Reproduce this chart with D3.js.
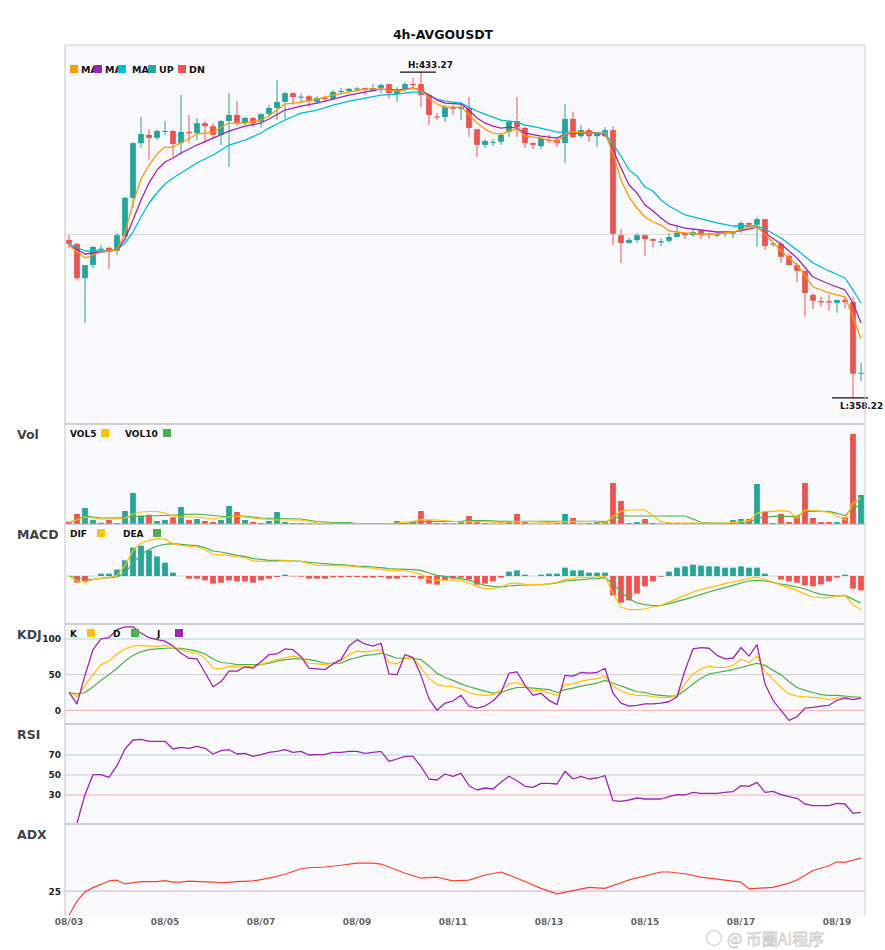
<!DOCTYPE html>
<html>
<head>
<meta charset="utf-8">
<script src="https://d3js.org/d3.v7.min.js"></script>
<style>
  body { margin: 0; background: #fff; }
  svg { font-family: "DejaVu Sans", sans-serif; }
</style>
</head>
<body>
<svg id="chart"></svg>
<script>
/*------------------------------------------------------------
----- DATA
------------------------------------------------------------*/

// Candles, one every 4 hours, starting 08/03 00:00
const open = [394.6, 393.7, 385.8, 388.8, 392.3, 392.8, 392.1, 395.5, 404.3, 416.9,
  418.8, 418.1, 419.5, 419.7, 416.9, 419.5, 419.2, 421.5, 420.8, 418.8,
  422.0, 423.4, 421.5, 422.7, 421.8, 423.6, 425.0, 426.4, 428.4, 427.4,
  427.7, 426.4, 427.3, 427.1, 428.8, 428.9, 429.2, 429.6, 428.9, 429.6,
  430.5, 428.2, 429.4, 430.5, 430.5, 428.0, 423.0, 422.9, 425.2, 424.8,
  425.0, 420.1, 416.5, 417.0, 417.2, 419.5, 422.0, 420.4, 416.9, 416.2,
  417.7, 417.6, 416.9, 422.5, 418.5, 419.9, 418.5, 418.5, 419.9, 395.7,
  393.9, 394.6, 395.7, 394.8, 394.0, 394.4, 395.3, 396.2, 395.7, 396.7,
  396.1, 395.6, 396.1, 396.1, 396.9, 398.5, 398.1, 399.4, 393.6, 393.7,
  390.9, 388.8, 387.5, 381.9, 380.5, 380.5, 380.1, 380.8, 380.3, 363.8];
const high = [395.7, 393.9, 388.8, 393.2, 393.4, 393.0, 396.2, 404.5, 417.2, 422.9,
  420.1, 420.1, 422.0, 419.9, 428.0, 423.4, 422.7, 422.0, 421.5, 422.2,
  428.4, 426.6, 422.9, 422.9, 423.8, 425.7, 431.4, 428.7, 428.6, 428.4,
  428.0, 427.7, 427.7, 429.1, 429.6, 429.6, 429.8, 429.7, 430.5, 430.7,
  430.6, 429.8, 431.0, 431.9, 433.27, 428.0, 423.8, 425.7, 425.7, 426.4,
  427.5, 420.2, 417.8, 417.8, 419.2, 422.2, 427.5, 420.6, 417.2, 418.3,
  418.8, 418.3, 425.9, 424.1, 421.1, 420.4, 419.5, 420.6, 420.8, 397.1,
  395.1, 396.2, 395.9, 395.0, 395.0, 396.2, 397.8, 396.4, 396.9, 396.8,
  396.2, 396.4, 396.4, 396.7, 399.0, 398.7, 399.9, 399.5, 393.9, 394.1,
  391.4, 389.3, 387.5, 382.4, 381.5, 381.9, 380.8, 381.5, 381.5, 366.3];
const low = [392.8, 385.2, 375.5, 388.2, 391.8, 387.9, 391.1, 395.3, 402.0, 415.8,
  413.2, 417.6, 418.8, 413.7, 414.2, 416.9, 417.6, 416.9, 418.1, 416.5,
  411.4, 420.8, 421.1, 420.6, 420.4, 423.1, 422.2, 422.2, 425.7, 426.1,
  425.2, 425.9, 426.4, 427.0, 428.0, 428.4, 428.7, 428.0, 428.7, 428.4,
  427.1, 426.4, 428.7, 429.6, 425.2, 421.1, 422.2, 421.8, 423.4, 422.2,
  418.3, 413.7, 415.8, 416.2, 416.5, 418.3, 418.3, 415.8, 415.5, 415.5,
  416.9, 416.0, 412.3, 418.1, 418.1, 417.2, 416.0, 418.3, 393.4, 389.3,
  393.7, 393.9, 390.9, 392.8, 393.2, 393.9, 395.2, 394.8, 395.3, 394.8,
  394.8, 395.2, 395.3, 395.0, 396.2, 397.6, 393.0, 392.3, 393.0, 389.3,
  388.8, 384.9, 376.9, 378.7, 379.2, 378.3, 377.8, 378.9, 358.22, 362.1];
const close = [393.7, 385.8, 388.8, 393.0, 392.6, 392.1, 395.7, 404.3, 416.9, 419.0,
  418.1, 419.7, 419.7, 416.7, 419.5, 419.2, 421.5, 420.8, 418.8, 422.0,
  423.4, 421.5, 422.7, 421.5, 423.6, 425.0, 426.4, 428.4, 427.5, 427.6,
  426.6, 427.3, 427.1, 428.7, 428.9, 429.4, 429.5, 429.1, 429.6, 430.3,
  428.4, 429.1, 430.5, 430.3, 428.0, 423.4, 422.8, 425.2, 424.8, 425.2,
  420.4, 416.5, 417.4, 417.2, 418.8, 421.8, 420.6, 416.9, 416.5, 418.1,
  417.5, 416.9, 422.5, 418.3, 419.9, 418.5, 419.0, 419.9, 396.0, 393.9,
  394.6, 395.7, 394.8, 394.4, 394.3, 395.3, 396.2, 395.7, 396.4, 395.7,
  395.9, 395.9, 396.3, 396.3, 398.5, 398.1, 399.4, 393.2, 393.8, 390.7,
  388.8, 387.5, 382.4, 380.6, 380.2, 380.2, 380.8, 380.3, 363.8, 364.0];
const volume = [2.3, 10, 16, 4, 1.3, 4, 1, 13, 31, 8.3,
  9.3, 3, 4, 6.7, 17, 4, 5, 3, 2, 4,
  18, 12, 4, 2, 1, 3, 12, 2, 1, 1,
  0.7, 0.3, 0.3, 1.3, 1, 0.3, 0.3, 0.3, 1, 0.3,
  1, 3, 1, 3, 13, 4, 1, 1, 0.7, 2.2,
  8, 2.3, 1, 0.3, 0.3, 2.3, 10, 2.3, 0.3, 0.3,
  0.3, 1, 10, 6, 0.3, 1, 2, 2.7, 41, 23,
  1, 2, 5, 1, 0.3, 1, 1, 0.7, 0.7, 0.7,
  0.3, 0.3, 0.3, 4, 5, 5, 40, 12, 1, 10,
  2, 8, 41, 6, 2, 2, 2, 6.7, 90, 29];

// Moving averages on the price panel, read at these candle indices
const maAt = [0, 2, 4, 6, 7, 8, 9, 10, 11, 12, 13, 14, 16, 18, 20, 22, 24, 25, 27, 29,
  31, 33, 35, 37, 39, 41, 43, 44, 45, 46, 47, 49, 50, 51, 52, 53, 54, 55, 56, 57,
  59, 61, 62, 63, 65, 67, 68, 69, 70, 71, 72, 73, 74, 75, 77, 79, 81, 83, 85, 86,
  87, 89, 91, 93, 95, 97, 98, 99];
const maFast = [393.44, 390.45, 391.83, 392.29, 396.20, 403.11, 408.63, 411.86, 414.39, 416.00,
  416.00, 416.92, 418.99, 419.45, 421.53, 421.53, 422.22, 423.14, 425.90, 426.36,
  427.05, 427.97, 428.66, 429.35, 429.35, 428.89, 429.58, 429.12, 427.28, 425.90,
  425.21, 425.21, 423.40, 421.53, 420.14, 419.22, 418.99, 419.68, 420.14, 418.53,
  418.07, 417.15, 418.99, 419.45, 419.22, 419.22, 414.62, 408.40, 404.49, 401.96,
  399.89, 398.74, 398.04, 396.66, 396.20, 395.97, 395.97, 396.43, 397.58, 397.58,
  395.97, 392.06, 388.84, 383.77, 382.39, 381.47, 376.87, 371.80];
const maMid = [393.44, 391.37, 391.83, 392.29, 394.82, 399.20, 403.80, 407.71, 410.71, 412.55,
  413.47, 414.62, 416.46, 418.07, 419.68, 420.83, 421.53, 422.45, 424.52, 425.44,
  426.13, 427.05, 427.97, 428.66, 429.35, 429.12, 429.58, 429.12, 427.97, 426.82,
  426.13, 425.90, 424.52, 422.68, 421.53, 420.83, 420.37, 420.60, 420.37, 419.22,
  418.53, 418.07, 418.99, 419.22, 419.22, 418.99, 415.31, 411.17, 407.25, 405.41,
  402.65, 401.27, 399.66, 398.28, 397.35, 396.89, 396.43, 396.43, 397.12, 397.58,
  396.20, 393.67, 390.45, 386.07, 384.46, 383.08, 380.09, 375.49];
const maSlow = [393.67, 392.06, 392.06, 392.29, 393.90, 396.43, 399.89, 403.11, 405.41, 407.48,
  408.86, 410.02, 412.32, 414.16, 416.46, 417.61, 419.22, 420.37, 422.22, 423.83,
  424.52, 425.67, 426.59, 427.28, 427.97, 428.20, 428.66, 428.66, 427.97, 427.05,
  426.59, 426.13, 425.21, 424.29, 423.60, 422.91, 422.22, 421.99, 421.76, 421.06,
  420.37, 419.45, 419.45, 419.45, 419.45, 419.22, 416.69, 413.93, 410.71, 409.32,
  406.79, 405.87, 403.80, 402.42, 400.35, 399.43, 398.51, 397.81, 397.81, 397.81,
  397.12, 395.05, 392.29, 389.30, 387.46, 385.84, 383.08, 380.09];

// Volume averages, [candle index, value]
const vol5Pts = [[0, 1.5], [2, 7], [4, 5], [6, 5], [7, 6], [8, 10], [9, 12], [10, 12.5], [11, 12.5], [12, 11],
  [13, 8], [14, 7], [16, 7], [18, 5], [20, 7], [21, 8], [22, 7], [24, 5], [26, 4], [28, 4],
  [29, 4], [30, 2.5], [31, 1], [34, 0.5], [40, 0.5], [41, 1], [43, 2.7], [44, 4.3], [46, 4], [47, 3.3],
  [49, 2], [50, 2.3], [52, 2.3], [54, 1.7], [56, 2.3], [58, 2.3], [60, 1.7], [62, 2.3], [64, 2.3], [66, 2.3],
  [67, 1], [68, 7.3], [69, 12.7], [70, 14], [72, 14], [73, 8.3], [74, 2.3], [75, 1], [79, 1], [80, 0.7],
  [82, 0.7], [83, 1.7], [84, 2.3], [85, 3.3], [86, 10.7], [87, 12.7], [88, 12.7], [89, 13.3], [90, 12.7], [91, 6],
  [92, 14], [93, 13.3], [94, 12.7], [95, 11.7], [96, 8.3], [97, 4], [98, 21], [99, 26]];
const vol10Pts = [[0, 1], [2, 8], [4, 6], [6, 6], [8, 7.5], [10, 8], [12, 8.5], [14, 9.3], [16, 10], [18, 8.5],
  [20, 7], [21, 8.5], [23, 7], [24, 6], [26, 5.5], [29, 5], [31, 2.5], [33, 1.5], [35, 1.5], [36, 0.5],
  [42, 0.5], [43, 1.5], [44, 2.5], [47, 2.5], [49, 2.7], [50, 3.3], [52, 3.3], [54, 2.7], [56, 2.7], [58, 2.7],
  [60, 2.7], [62, 2.7], [64, 2.7], [66, 2.7], [67, 2.3], [68, 5], [69, 8.3], [70, 8], [73, 8], [76, 8],
  [77, 8], [78, 5], [79, 1.7], [80, 1], [85, 1], [86, 6], [87, 6.7], [88, 7.7], [91, 7.7], [92, 12.7],
  [95, 12.7], [96, 10.7], [97, 8.3], [98, 16.7], [99, 18.3]];

// MACD
const macdHist = [0, -1.33, -1.07, 0, 0.47, 0.47, 1.27, 3.13, 5.67, 6.07,
  5.13, 3.93, 2.67, 0.67, 0, -0.53, -0.53, -0.87, -1.53, -1.33,
  -0.87, -1.07, -1.07, -1.33, -0.87, -0.53, -0.2, 0.27, -0.07, -0.13,
  -0.53, -0.53, -0.53, -0.27, -0.27, -0.2, -0.2, -0.33, -0.33, -0.2,
  -0.53, -0.53, -0.2, -0.2, -0.53, -1.53, -1.73, -0.87, -0.53, -0.33,
  -0.73, -1.73, -1.53, -1.07, -0.33, 0.87, 1.13, 0.27, 0, 0.27,
  0.47, 0.47, 1.67, 1.13, 1.13, 0.67, 0.67, 0.67, -3.87, -5.33,
  -4.87, -3.53, -2.07, -1.07, -0.13, 0.87, 1.67, 1.93, 2.27, 2.07,
  1.93, 1.93, 1.67, 1.67, 1.93, 1.67, 1.67, 0.47, 0, -0.73,
  -1.07, -1.33, -1.87, -2.07, -1.67, -1.07, -0.33, 0.27, -2.53, -2.87];
const dif = [0, -1.0, -1.27, -0.73, -0.47, -0.27, 0.13, 2.13, 5.13, 6.6,
  7.13, 7.47, 7.33, 6.47, 6.13, 5.93, 5.8, 5.27, 4.33, 4.27,
  4.07, 3.8, 3.67, 3.0, 2.93, 2.93, 2.93, 3.13, 3.0, 2.93,
  2.47, 2.13, 2.13, 2.07, 2.0, 2.0, 1.8, 1.67, 1.6, 1.33,
  1.13, 1.07, 1.0, 0.8, 0.33, -0.6, -0.87, -0.8, -0.8, -0.93,
  -1.4, -2.07, -2.53, -2.53, -2.2, -1.53, -1.4, -1.67, -1.73, -1.73,
  -1.53, -1.27, -0.67, -0.53, -0.2, -0.33, -0.2, 0, -3.53, -6.2,
  -6.73, -6.73, -6.6, -6.2, -5.87, -5.2, -4.53, -3.87, -3.2, -2.73,
  -2.33, -1.93, -1.53, -1.2, -0.87, -0.53, -0.2, -0.73, -1.2, -1.87,
  -2.33, -2.87, -3.67, -4.2, -4.33, -4.33, -4.07, -3.87, -5.73, -6.73];
const dea = [0, -0.4, -0.73, -0.67, -0.47, -0.33, -0.2, 0.67, 2.47, 4.33,
  5.27, 6.0, 6.33, 6.47, 6.33, 6.2, 6.07, 5.67, 5.0, 4.8,
  4.47, 4.13, 3.93, 3.47, 3.33, 3.13, 3.13, 3.07, 3.0, 2.93,
  2.73, 2.6, 2.47, 2.33, 2.27, 2.13, 2.0, 1.93, 1.8, 1.67,
  1.47, 1.4, 1.33, 1.27, 1.13, 0.6, 0.13, -0.07, -0.33, -0.53,
  -0.87, -1.4, -1.87, -2.07, -2.2, -2.0, -1.87, -1.8, -1.73, -1.73,
  -1.6, -1.4, -1.0, -0.87, -0.73, -0.6, -0.53, -0.33, -1.53, -3.2,
  -4.53, -5.4, -5.73, -5.93, -5.93, -5.53, -5.07, -4.67, -4.2, -3.67,
  -3.2, -2.73, -2.33, -1.87, -1.4, -1.0, -0.87, -1.0, -1.27, -1.6,
  -1.87, -2.2, -2.6, -3.2, -3.67, -3.87, -4.0, -3.87, -4.67, -5.4];

// KDJ
const kLine = [25, 19, 35, 50, 64, 69, 79, 86, 90, 91,
  90, 90, 91, 87, 85, 82, 80, 73, 59, 58,
  62, 61, 61, 62, 64, 68, 71, 74, 76, 73,
  66, 65, 64, 66, 69, 78, 83, 82, 83, 85,
  67, 65, 73, 73, 60, 45, 36, 34, 33, 30,
  25, 22, 21, 22, 28, 37, 39, 33, 28, 28,
  24, 21, 36, 37, 41, 43, 44, 48, 34, 27,
  23, 21, 21, 19, 18, 18, 21, 37, 51, 58,
  62, 60, 60, 63, 72, 67, 76, 55, 43, 32,
  23, 20, 19, 18, 17, 15, 17, 18, 18, 17];
const dLine = [25, 23, 25, 33, 42, 50, 59, 69, 77, 82,
  85, 86, 87, 87, 87, 85, 83, 79, 72, 67,
  66, 64, 64, 64, 64, 66, 69, 71, 72, 72,
  71, 69, 66, 66, 66, 71, 74, 77, 78, 80,
  77, 73, 73, 73, 71, 62, 52, 46, 42, 37,
  33, 30, 27, 24, 25, 29, 32, 32, 31, 30,
  29, 25, 29, 31, 34, 36, 38, 42, 38, 34,
  30, 26, 25, 22, 21, 20, 20, 28, 37, 45,
  51, 53, 55, 57, 60, 63, 66, 63, 56, 50,
  40, 32, 28, 25, 22, 21, 21, 20, 19, 18];
const jLine = [25, 9, 49, 85, 100, 102, 113, 117, 117, 108,
  102, 99, 97, 90, 80, 73, 72, 53, 33, 40,
  55, 55, 61, 59, 68, 78, 79, 86, 85, 75,
  59, 58, 57, 65, 71, 90, 99, 93, 90, 94,
  51, 50, 78, 74, 49, 16, 0, 10, 13, 21,
  6, 3, 6, 13, 25, 52, 54, 35, 21, 24,
  14, 8, 49, 48, 53, 52, 53, 59, 24, 10,
  6, 7, 9, 9, 10, 12, 19, 56, 86, 88,
  87, 77, 72, 73, 88, 76, 92, 37, 14, 0,
  -14, -9, 3, 4, 6, 7, 14, 17, 15, 17];

// RSI
const rsi = [null, 2, 30.3, 50.3, 50.3, 47.7, 59.3, 76, 85, 85.7,
  83.7, 83.7, 83.7, 76, 77.7, 76.7, 78.7, 76.7, 71, 74.3,
  75.3, 71, 71.7, 68.7, 70.3, 72.7, 73.7, 75.3, 72.7, 73.7,
  70, 70.3, 70.7, 72.7, 72.7, 73.7, 73.7, 71.7, 72.7, 73.7,
  63.7, 66, 68.7, 68.7, 58.3, 46, 45, 51, 48.7, 51.7,
  39.3, 35, 37, 36, 42.7, 48.7, 44.3, 38.7, 37.7, 41.7,
  41.7, 41, 53.7, 46, 48.7, 46, 47, 49.3, 24.3, 23.7,
  25, 27, 26, 26, 26, 28.3, 30.3, 30, 32.7, 31.7,
  31.7, 31.7, 32.7, 33.3, 39.3, 38.7, 42.7, 32.7, 33.7, 30.3,
  28.3, 26.7, 21, 19.3, 19.3, 19.3, 21.7, 21, 11.7, 12.7];

// ADX, [candle index, value]
const adxPts = [[0, 15.3], [1, 21.0], [2, 24.7], [3, 26.4], [5, 29.1], [6, 29.4], [7, 27.9], [9, 28.8], [11, 28.8], [12, 29.2],
  [13, 28.6], [14, 28.6], [15, 29.0], [17, 28.7], [18, 28.6], [19, 28.3], [21, 28.8], [23, 29.1], [25, 30.2], [27, 31.8],
  [29, 34.0], [30, 34.4], [32, 34.7], [34, 35.4], [36, 36.3], [38, 36.3], [39, 35.9], [42, 32.2], [44, 30.2], [46, 30.6],
  [48, 29.1], [50, 29.4], [52, 31.5], [54, 32.7], [56, 30.2], [59, 26.1], [61, 23.9], [63, 25.2], [65, 26.5], [67, 26.1],
  [70, 29.5], [74, 32.7], [75, 32.7], [77, 32.0], [79, 30.6], [81, 29.8], [84, 28.6], [85, 25.9], [87, 26.3], [88, 26.5],
  [90, 28.2], [91, 29.5], [93, 33.3], [95, 35.2], [96, 36.8], [97, 36.6], [99, 38.3]];

// Reference levels and tick labels
const kdjLevels = [100, 50, 0];
const rsiLevels = [70, 50, 30];
const adxLevels = [25];

/*------------------------------------------------------------
----- LAYOUT
------------------------------------------------------------*/

const UP = '#26a69a', DN = '#ef5350';
const C_ORANGE = '#ff9800', C_PURPLE = '#9c27b0', C_CYAN = '#00bcd4';
const C_YELLOW = '#ffc107', C_GREEN = '#4caf50';

const chart_left = 65, chart_right = 865;
const panels = [
    { id: 'main', top: 45, bottom: 424, label: null },
    { id: 'vol', top: 424, bottom: 524, label: 'Vol' },
    { id: 'macd', top: 524, bottom: 624, label: 'MACD' },
    { id: 'kdj', top: 624, bottom: 724, label: 'KDJ' },
    { id: 'rsi', top: 724, bottom: 824, label: 'RSI' },
    { id: 'adx', top: 824, bottom: 916, label: 'ADX' }
];

// Category axis: one 4h candle per slot
const start_time = new Date(2025, 7, 3, 0, 0);
const times = close.map((d, i) => d3.timeHour.offset(start_time, 4 * i));

const svg = d3.select('#chart').attr('width', 885).attr('height', 950);

const x = d3.scaleBand()
    .domain(d3.range(close.length))
    .range([chart_left, chart_right])
    .padding(0);
const xc = i => x(i) + x.bandwidth() / 2;
const body_w = x.bandwidth() * 0.72;

// Price scale, padded around the lowest low / highest high
const lo = d3.min(low), hi = d3.max(high), span = hi - lo;
const yPrice = d3.scaleLinear().domain([lo - span * 0.08, hi + span * 0.083]).range([424, 45]);
const yVol = d3.scaleLinear().domain([0, d3.max(volume) / 0.9]).range([524, 424]);
const yMacd = d3.scaleLinear().domain([-9.6, 10.4]).range([624, 524]);
const yKdj = d3.scaleLinear().domain([-19.2, 121]).range([724, 624]);
const yRsi = d3.scaleLinear().domain([0, 100]).range([825, 725]);
const yAdx = d3.scaleLinear().domain([15, 52]).range([916, 824]);

// Backgrounds and clip paths for every panel
const defs = svg.append('defs');
panels.forEach(p => {
    svg.append('rect')
        .attr('x', chart_left).attr('y', p.top)
        .attr('width', chart_right - chart_left).attr('height', p.bottom - p.top)
        .attr('fill', '#f9f9fb');
    defs.append('clipPath').attr('id', 'clip-' + p.id)
        .append('rect')
        .attr('x', chart_left).attr('y', p.top)
        .attr('width', chart_right - chart_left).attr('height', p.bottom - p.top);
});
const layer = id => svg.append('g').attr('clip-path', 'url(#clip-' + id + ')');

// Helper to draw a line series from [index, value] pairs
function drawLine(g, pts, yScale, color, width) {
    g.append('path')
        .datum(pts)
        .attr('fill', 'none')
        .attr('stroke', color)
        .attr('stroke-width', width || 1.2)
        .attr('stroke-linejoin', 'round')
        .attr('d', d3.line().x(d => xc(d[0])).y(d => yScale(d[1])));
}
const pairs = arr => arr.map((v, i) => [i, v]).filter(d => d[1] !== null);
const zipAt = (idx, vals) => idx.map((i, k) => [i, vals[k]]);

// Horizontal reference lines
function hLine(y, color) {
    svg.append('line')
        .attr('x1', chart_left).attr('x2', chart_right)
        .attr('y1', y).attr('y2', y)
        .attr('stroke', color).attr('stroke-width', 1);
}

/*------------------------------------------------------------
----- MAIN PRICE PANEL
------------------------------------------------------------*/

hLine(yPrice(d3.mean(yPrice.domain())), '#dcdcdc');

const gMain = layer('main');
const candles = gMain.selectAll('g.candle')
    .data(close.map((c, i) => ({ i, o: open[i], h: high[i], l: low[i], c })))
    .enter().append('g')
    .attr('class', 'candle');

candles.append('line')
    .attr('x1', d => xc(d.i)).attr('x2', d => xc(d.i))
    .attr('y1', d => yPrice(d.h)).attr('y2', d => yPrice(d.l))
    .attr('stroke', d => d.c >= d.o ? UP : DN)
    .attr('stroke-width', 1);

candles.append('rect')
    .attr('x', d => xc(d.i) - body_w / 2)
    .attr('width', body_w)
    .attr('y', d => yPrice(Math.max(d.o, d.c)))
    .attr('height', d => Math.max(1, Math.abs(yPrice(d.o) - yPrice(d.c))))
    .attr('fill', d => d.c >= d.o ? UP : DN);

drawLine(gMain, zipAt(maAt, maSlow), yPrice, C_CYAN, 1.3);
drawLine(gMain, zipAt(maAt, maMid), yPrice, C_PURPLE, 1.3);
drawLine(gMain, zipAt(maAt, maFast), yPrice, C_ORANGE, 1.3);

// High / low markers
const hi_i = high.indexOf(hi), lo_i = low.indexOf(lo);
[[hi_i, hi, 'H:', -4], [lo_i, lo, 'L:', 11]].forEach(([i, v, pre, dy]) => {
    svg.append('line')
        .attr('x1', xc(i) - 21).attr('x2', xc(i) + 15)
        .attr('y1', yPrice(v)).attr('y2', yPrice(v))
        .attr('stroke', '#111').attr('stroke-width', 1.2);
    svg.append('text')
        .attr('x', xc(i) - 13).attr('y', yPrice(v) + dy)
        .attr('font-size', 8.8).attr('font-weight', 'bold').attr('fill', '#111')
        .text(pre + v.toFixed(2));
});

// Main legend: text first, squares drawn on top
const mainLegend = [
    { color: C_ORANGE, sx: 70, text: 'MA', tx: 81 },
    { color: C_PURPLE, sx: 94, text: 'MA', tx: 105 },
    { color: C_CYAN, sx: 118, text: 'MA', tx: 132 },
    { color: UP, sx: 148, text: 'UP', tx: 159 },
    { color: DN, sx: 178, text: 'DN', tx: 189 }
];
mainLegend.forEach(d => {
    svg.append('text').attr('x', d.tx).attr('y', 72.5)
        .attr('font-size', 9.5).attr('font-weight', 'bold').attr('fill', '#111').text(d.text);
});
mainLegend.forEach(d => {
    svg.append('rect').attr('x', d.sx).attr('y', 65).attr('width', 8).attr('height', 8).attr('fill', d.color);
});

/*------------------------------------------------------------
----- VOLUME PANEL
------------------------------------------------------------*/

const gVol = layer('vol');
gVol.selectAll('rect.vol')
    .data(volume)
    .enter().append('rect')
    .attr('class', 'vol')
    .attr('x', (d, i) => xc(i) - body_w / 2)
    .attr('width', body_w)
    .attr('y', d => yVol(d))
    .attr('height', d => yVol(0) - yVol(d))
    .attr('fill', (d, i) => close[i] >= open[i] ? UP : DN);
drawLine(gVol, vol10Pts, yVol, C_GREEN, 1.2);
drawLine(gVol, vol5Pts, yVol, C_YELLOW, 1.2);

/*------------------------------------------------------------
----- MACD PANEL
------------------------------------------------------------*/

hLine(yMacd(0), '#d6d6d6');
const gMacd = layer('macd');
gMacd.selectAll('rect.hist')
    .data(macdHist)
    .enter().append('rect')
    .attr('class', 'hist')
    .attr('x', (d, i) => xc(i) - body_w / 2)
    .attr('width', body_w)
    .attr('y', d => yMacd(Math.max(0, d)))
    .attr('height', d => Math.abs(yMacd(d) - yMacd(0)))
    .attr('fill', d => d >= 0 ? UP : DN);
drawLine(gMacd, pairs(dea), yMacd, C_GREEN, 1.2);
drawLine(gMacd, pairs(dif), yMacd, C_YELLOW, 1.2);

/*------------------------------------------------------------
----- KDJ / RSI / ADX PANELS
------------------------------------------------------------*/

const levelColor = ['#a6dad4', '#cfcfcf', '#f3b0b0'];
kdjLevels.forEach((v, k) => hLine(yKdj(v), levelColor[k]));
rsiLevels.forEach((v, k) => hLine(yRsi(v), levelColor[k]));
adxLevels.forEach(v => hLine(yAdx(v), '#dcaee4'));

const gKdj = layer('kdj');
drawLine(gKdj, pairs(dLine), yKdj, C_GREEN, 1.2);
drawLine(gKdj, pairs(kLine), yKdj, C_YELLOW, 1.2);
drawLine(gKdj, pairs(jLine), yKdj, C_PURPLE, 1.3);

const gRsi = layer('rsi');
drawLine(gRsi, pairs(rsi), yRsi, C_PURPLE, 1.3);

const gAdx = layer('adx');
drawLine(gAdx, adxPts, yAdx, '#f44336', 1.2);

// Value labels on the left of the oscillator panels
[[yKdj, kdjLevels], [yRsi, rsiLevels], [yAdx, adxLevels]].forEach(([scale, vals]) => {
    const ax = svg.append('g')
        .attr('transform', 'translate(' + chart_left + ',0)')
        .call(d3.axisLeft(scale).tickValues(vals).tickSize(0).tickPadding(4));
    ax.select('.domain').remove();
    ax.selectAll('text')
        .attr('font-size', 9).attr('font-weight', 'bold').attr('fill', '#222')
        .attr('font-family', '"DejaVu Sans", sans-serif');
});

/*------------------------------------------------------------
----- FRAME, LEGENDS, TITLES
------------------------------------------------------------*/

panels.forEach((p, k) => {
    if (k > 0) {
        svg.append('line').attr('x1', chart_left).attr('x2', chart_right)
            .attr('y1', p.top).attr('y2', p.top)
            .attr('stroke', '#a9a9b0').attr('stroke-width', 1);
    }
    if (p.label) {
        svg.append('text').attr('x', 17).attr('y', p.top + 15)
            .attr('font-size', 12.5).attr('font-weight', 'bold').attr('fill', '#444')
            .text(p.label);
    }
});
svg.append('line').attr('x1', chart_left).attr('x2', chart_right).attr('y1', 45).attr('y2', 45)
    .attr('stroke', '#cfcfd6');
svg.append('line').attr('x1', chart_left).attr('x2', chart_left).attr('y1', 45).attr('y2', 916)
    .attr('stroke', '#c4c4cc');
svg.append('line').attr('x1', chart_right).attr('x2', chart_right).attr('y1', 45).attr('y2', 916)
    .attr('stroke', '#cfcfd6');

// Sub-panel legends
const subLegends = [
    { y: 424, items: [['VOL5', 70, 101, C_YELLOW], ['VOL10', 125, 163, C_GREEN]] },
    { y: 524, items: [['DIF', 70, 97, C_YELLOW], ['DEA', 123, 153, C_GREEN]] },
    { y: 624, items: [['K', 70, 87, C_YELLOW], ['D', 113, 131, C_GREEN], ['J', 157, 175, C_PURPLE]] }
];
subLegends.forEach(l => {
    l.items.forEach(([txt, tx, sx, color]) => {
        svg.append('text').attr('x', tx).attr('y', l.y + 13)
            .attr('font-size', 9).attr('font-weight', 'bold').attr('fill', '#111').text(txt);
        svg.append('rect').attr('x', sx).attr('y', l.y + 5).attr('width', 8).attr('height', 8).attr('fill', color);
    });
});

// Title
svg.append('text')
    .attr('x', 443).attr('y', 39)
    .attr('text-anchor', 'middle')
    .attr('font-size', 12.5).attr('font-weight', 'bold').attr('fill', '#111')
    .text('4h-AVGOUSDT');

// Date axis below the last panel
const fmt = d3.timeFormat('%m/%d');
const xAxis = svg.append('g')
    .attr('transform', 'translate(0,916)')
    .call(d3.axisBottom(x)
        .tickValues(x.domain().filter(i => times[i].getHours() === 0 && times[i].getDate() % 2 === 1))
        .tickFormat(i => fmt(times[i]))
        .tickSize(0).tickPadding(3));
xAxis.select('.domain').remove();
xAxis.selectAll('text')
    .attr('font-size', 9).attr('font-weight', 'bold').attr('fill', '#666')
    .attr('font-family', '"DejaVu Sans", sans-serif');

// Watermark, kept just under the date labels
const wm = svg.append('g').attr('opacity', 0.55);
wm.append('circle').attr('cx', 714).attr('cy', 938).attr('r', 7.5)
    .attr('fill', 'none').attr('stroke', '#bbb').attr('stroke-width', 1.5);
wm.append('text').attr('x', 727).attr('y', 945)
    .attr('font-size', 16).attr('fill', 'none').attr('stroke', '#aaa').attr('stroke-width', 0.8)
    .attr('font-family', '"Noto Sans CJK SC", sans-serif')
    .text('@ 币圈AI程序');
</script>
</body>
</html>
